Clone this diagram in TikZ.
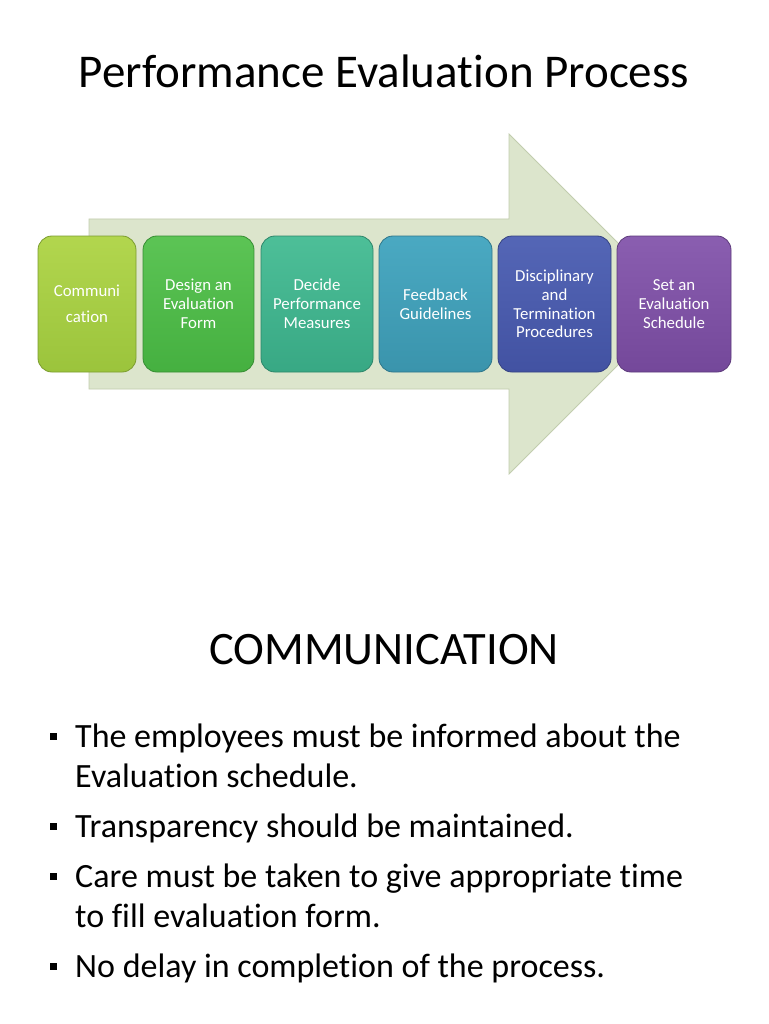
\documentclass[tikz,border=0pt]{standalone}
\usepackage{fontspec}
\setmainfont{Carlito}[Ligatures={NoCommon}]
\definecolor{arrowfill}{HTML}{DCE5CC}
\definecolor{arrowline}{HTML}{C2CDAE}
\definecolor{cA}{HTML}{9BC43C}
\definecolor{cAt}{HTML}{B2D64E}
\definecolor{cB}{HTML}{45B040}
\definecolor{cBt}{HTML}{5CC455}
\definecolor{cC}{HTML}{38A884}
\definecolor{cCt}{HTML}{4DBF98}
\definecolor{cD}{HTML}{3A94AC}
\definecolor{cDt}{HTML}{4AA9C2}
\definecolor{cE}{HTML}{4252A2}
\definecolor{cEt}{HTML}{5466B6}
\definecolor{cF}{HTML}{74489A}
\definecolor{cFt}{HTML}{8A5EB0}
\tikzset{
  stepbox/.style={rounded corners=14pt, minimum height=136pt, text=white,
    font=\fontsize{16.8}{18.8}\selectfont, align=center, inner sep=1pt, line width=0.8pt},
  bulletsq/.style={fill=black, minimum size=7pt, inner sep=0pt},
  bullettext/.style={anchor=base west, font=\fontsize{34}{40}\selectfont, inner sep=0pt}
}
\begin{document}
\begin{tikzpicture}[x=1pt,y=-1pt]
\useasboundingbox (0,0) rectangle (768,1024);
\fill[white] (0,0) rectangle (768,1024);
% title
\node[font=\fontsize{47}{56}\selectfont, anchor=base] (title) at (384,88) {Performance Evaluation Process};
% arrow
\draw[fill=arrowfill, draw=arrowline, line width=0.8pt]
  (89,219) -- (509,219) -- (509,134) -- (679,304) -- (509,474) -- (509,389) -- (89,389) -- cycle;
% boxes
\node[stepbox, minimum width=98pt, top color=cAt, bottom color=cA, draw=cA!80!black, font=\fontsize{16.8}{26}\selectfont] (b1) at (87,304) {Communi\\cation};
\node[stepbox, minimum width=111pt, top color=cBt, bottom color=cB, draw=cB!80!black] (b2) at (198.5,304) {Design an\\Evaluation\\Form};
\node[stepbox, minimum width=112pt, top color=cCt, bottom color=cC, draw=cC!80!black] (b3) at (317,304) {Decide\\Performance\\Measures};
\node[stepbox, minimum width=113pt, top color=cDt, bottom color=cD, draw=cD!80!black] (b4) at (435.5,304) {Feedback\\Guidelines};
\node[stepbox, minimum width=113pt, top color=cEt, bottom color=cE, draw=cE!80!black] (b5) at (554.5,304) {Disciplinary\\and\\Termination\\Procedures};
\node[stepbox, minimum width=114pt, top color=cFt, bottom color=cF, draw=cF!80!black] (b6) at (674,304) {Set an\\Evaluation\\Schedule};
% heading
\node[font=\fontsize{46.5}{54}\selectfont, anchor=base] (head) at (384,664) {COMMUNICATION};
% bullets
\node[bulletsq] (s1) at (53.5,736) {};
\node[bullettext] (t1) at (75,747) {The employees must be informed about the};
\node[bullettext] (t1b) at (75,787) {Evaluation schedule.};
\node[bulletsq] (s2) at (53.5,826) {};
\node[bullettext] (t2) at (75,837) {Transparency should be maintained.};
\node[bulletsq] (s3) at (53.5,876) {};
\node[bullettext] (t3) at (75,887) {Care must be taken to give appropriate time};
\node[bullettext] (t3b) at (75,927) {to fill evaluation form.};
\node[bulletsq] (s4) at (53.5,966) {};
\node[bullettext] (t4) at (75,977) {No delay in completion of the process.};
\end{tikzpicture}
\end{document}
